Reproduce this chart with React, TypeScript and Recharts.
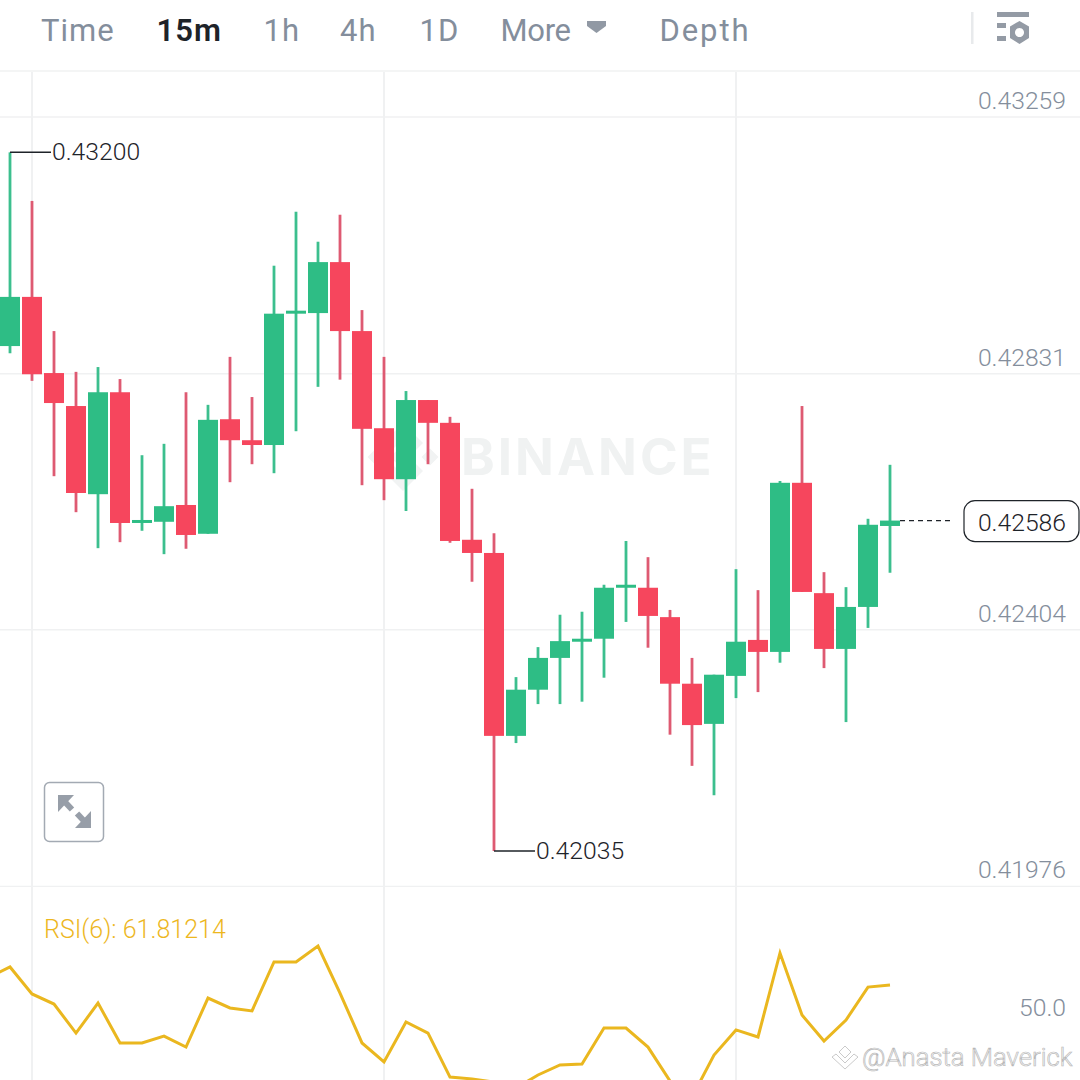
import { Bar, CartesianGrid, ComposedChart, Line, ReferenceDot, XAxis, YAxis } from 'recharts';

const opens = [0.42877, 0.42959, 0.42832, 0.42777, 0.4263, 0.428, 0.42582, 0.42584, 0.42612, 0.42564, 0.42755, 0.4272, 0.42712, 0.42931, 0.42932, 0.43017, 0.42902, 0.4274, 0.42655, 0.42787, 0.42749, 0.42554, 0.42532, 0.42227, 0.42304, 0.42357, 0.42384, 0.42389, 0.42475, 0.42474, 0.42425, 0.42314, 0.42247, 0.42327, 0.42387, 0.42367, 0.42649, 0.42465, 0.42372, 0.42442, 0.42577];
const closes = [0.42959, 0.4283, 0.42782, 0.42632, 0.428, 0.42582, 0.42587, 0.4261, 0.42562, 0.42754, 0.4272, 0.42712, 0.42931, 0.42936, 0.43017, 0.42902, 0.42739, 0.42655, 0.42787, 0.42749, 0.42552, 0.42532, 0.42227, 0.42304, 0.42357, 0.42385, 0.42389, 0.42474, 0.42479, 0.42427, 0.42314, 0.42245, 0.42329, 0.42384, 0.42367, 0.42649, 0.42467, 0.42372, 0.42442, 0.42579, 0.42586];
const highs = [0.432, 0.43119, 0.42902, 0.42834, 0.42842, 0.42822, 0.42695, 0.42714, 0.428, 0.42779, 0.42859, 0.42792, 0.43011, 0.43101, 0.43051, 0.43096, 0.42937, 0.42859, 0.42802, 0.42787, 0.42759, 0.42639, 0.42565, 0.42325, 0.42375, 0.42429, 0.42434, 0.42479, 0.42552, 0.42525, 0.42437, 0.42357, 0.42329, 0.42505, 0.4247, 0.42652, 0.42777, 0.425, 0.42475, 0.42589, 0.42679];
const lows = [0.42865, 0.42819, 0.4266, 0.426, 0.4254, 0.4255, 0.42569, 0.4253, 0.42539, 0.42564, 0.4265, 0.4268, 0.42665, 0.42735, 0.42809, 0.42821, 0.42645, 0.4262, 0.42602, 0.4268, 0.42549, 0.42484, 0.42035, 0.42215, 0.4228, 0.4228, 0.42284, 0.42324, 0.42417, 0.42374, 0.42229, 0.42177, 0.42128, 0.4229, 0.423, 0.42349, 0.42467, 0.4234, 0.4225, 0.42407, 0.42499];
// first value belongs to the candle just off the left edge
const rsiValues = [65.6, 71.5, 57.0, 51.6, 36.0, 52.1, 30.7, 30.7, 34.4, 28.5, 54.8, 49.5, 47.9, 74.2, 74.2, 82.7, 57.5, 30.7, 20.5, 42.0, 36.0, 12.4, 11.4, 9.7, 6.5, 13.5, 18.9, 19.4, 38.7, 38.7, 28.5, 10.3, 1.7, 24.2, 37.7, 33.9, 79.0, 45.7, 31.75, 43.0, 60.7, 61.81];
const priceTicks = [0.43259, 0.42831, 0.42404, 0.41976];
const rsiTicks = [50];
const timeTicks = [1, 17, 33];

const candles = opens.map((open, i) => ({ i, open, close: closes[i], high: highs[i], low: lows[i] }));
const rsiData = rsiValues.map((rsi, k) => ({ i: k - 1, rsi }));

const UP = '#2EBD85';
const DOWN = '#F6465D';
const UP_WICK = '#3CBF8E';
const DOWN_WICK = '#DE5A72';
const GRID = '#F0F1F2';
const MUTED = '#848E9C';
const DARK = '#1E2329';
const FONT = 'Roboto, sans-serif';
const xDomain: [number, number] = [-10 / 22, 1070 / 22];

const Candle = (props: any) => {
  const { x, y, width, height, payload } = props;
  const { open, close, high, low } = payload;
  const scale = height / (high - low);
  const isUp = close >= open;
  const top = y + (high - Math.max(open, close)) * scale;
  const bodyH = Math.max(Math.abs(open - close) * scale, 3);
  const mid = x + width / 2;
  return (
    <g>
      <line x1={mid} x2={mid} y1={y} y2={y + height} stroke={isUp ? UP_WICK : DOWN_WICK} strokeWidth={2.8} />
      <rect x={x} y={top} width={width} height={bodyH} fill={isUp ? UP : DOWN} />
    </g>
  );
};

const PriceTick = ({ y, payload }: any) => (
  <text x={1066} y={y - 8} textAnchor="end" fontSize={24.7} fontWeight={300} fontFamily={FONT} fill={MUTED}>
    {payload.value.toFixed(5)}
  </text>
);

const RsiTick = ({ y, payload }: any) => (
  <text x={1066} y={y + 9} textAnchor="end" fontSize={24.7} fontWeight={300} fontFamily={FONT} fill={MUTED}>
    {payload.value.toFixed(1)}
  </text>
);

const HighLabel = ({ cx, cy, value }: any) => (
  <g>
    <line x1={cx} x2={cx + 41} y1={cy} y2={cy} stroke={DARK} strokeWidth={1.5} />
    <text x={cx + 42} y={cy + 7.5} fontSize={24.7} fontWeight={300} fontFamily={FONT} fill={DARK}>
      {value}
    </text>
  </g>
);

const LastPrice = ({ cx, cy, value }: any) => (
  <g>
    <line x1={cx + 10} x2={cx + 60} y1={cy} y2={cy} stroke={DARK} strokeWidth={1.2} strokeDasharray="5 4" />
    <rect x={964} y={cy - 20} width={115} height={41} rx={11} fill="#fff" stroke={DARK} strokeWidth={1.2} />
    <text x={1066} y={cy + 10} textAnchor="end" fontSize={24.7} fontWeight={300} fontFamily={FONT} fill={DARK}>
      {value}
    </text>
  </g>
);

const Backdrop = () => (
  <svg width={1080} height={1080} style={{ position: 'absolute', left: 0, top: 0 }}>
    <g transform="translate(403 457)" fill="#F1F3F3">
      <rect x={-9} y={-9} width={18} height={18} transform="rotate(45)" />
      <path d="M0 -34 L20 -14 L12 -6 L0 -18 L-12 -6 L-20 -14 Z" />
      <path d="M0 34 L20 14 L12 6 L0 18 L-12 6 L-20 14 Z" />
      <rect x={-33} y={-6} width={12} height={12} transform="rotate(45 -27 0)" />
      <rect x={21} y={-6} width={12} height={12} transform="rotate(45 27 0)" />
    </g>
    <text x={461} y={475} fontSize={51} fontWeight={700} letterSpacing={3} fontFamily="Inter, sans-serif" fill="#F0F2F2">
      BINANCE
    </text>
  </svg>
);

const Tab = ({ x, label, spacing = 1, active = false }: any) => (
  <text
    x={x}
    y={41}
    fontSize={31}
    letterSpacing={spacing}
    fontWeight={active ? 600 : 400}
    fontFamily={FONT}
    fill={active ? DARK : MUTED}
  >
    {label}
  </text>
);

const Overlay = () => (
  <svg width={1080} height={1080} style={{ position: 'absolute', left: 0, top: 0 }}>
    <rect x={0} y={70} width={1080} height={2} fill="#F4F5F5" />
    <Tab x={41} label="Time" />
    <Tab x={156.5} label="15m" active />
    <Tab x={263.5} label="1h" />
    <Tab x={340} label="4h" />
    <Tab x={419.5} label="1D" />
    <Tab x={500.5} label="More" spacing={-0.3} />
    <Tab x={659.5} label="Depth" spacing={1.9} />
    <path d="M587 21 H606 V26 L596.5 33 L587 26 Z" fill="#9199A4" />
    <rect x={971} y={12} width={2.5} height={32} fill="#E8EAEC" />
    <g fill="#949BA5">
      <rect x={997} y={12} width={32} height={5} />
      <rect x={997} y={23} width={9} height={5} />
      <rect x={997} y={36} width={9} height={5} />
      <path fillRule="evenodd" d="M1019.5 21 L1029 26.5 V38 L1019.5 44 L1010 38 V26.5 Z M1019.5 28 a4.5 4.5 0 1 0 0.01 0 Z" />
    </g>

    <rect x={44.5} y={782.5} width={59} height={59} rx={5} fill="#fff" stroke="#A3AAB3" strokeWidth={1.5} />
    <g fill="#979EA8" stroke="none">
      <path d="M58 795 H74 L58 812 Z" />
      <path d="M91 828 H75 L91 811 Z" />
    </g>
    <g stroke="#979EA8" strokeWidth={6}>
      <line x1={64} y1={801} x2={72} y2={809.5} />
      <line x1={85} y1={822} x2={77} y2={813.5} />
    </g>

    <text x={44} y={938} fontSize={25} fontFamily={FONT} fontWeight={300} fill="#EDB71F">
      RSI(6): 61.81214
    </text>

    <g fill="#fff" stroke="#BDBDBD" strokeWidth={0.8}>
      <path d="M845 1046 L851 1052 L845 1058 L839 1052 Z" />
      <path d="M832 1057 L845 1069 L858 1057 L854 1054 L845 1063 L836 1054 Z" />
    </g>
    <text x={862} y={1066} fontSize={25.7} fontWeight={300} fontFamily={FONT} fill="#fff" stroke="#B8B8B8" strokeWidth={0.7}>
      @Anasta Maverick
    </text>
  </svg>
);

export default function App() {
  return (
    <div style={{ position: 'absolute', left: 0, top: 0, width: 1080, height: 1080, overflow: 'hidden', background: '#fff' }}>
      <Backdrop />
      <div style={{ position: 'absolute', left: 0, top: 72 }}>
        <ComposedChart width={1080} height={815} data={candles} margin={{ top: 0, right: 0, bottom: 0, left: 0 }}>
          <CartesianGrid horizontal={false} syncWithTicks stroke={GRID} strokeWidth={2} />
          <CartesianGrid vertical={false} syncWithTicks stroke={GRID} strokeWidth={1.5} />
          <XAxis dataKey="i" type="number" domain={xDomain} ticks={timeTicks} interval={0} allowDataOverflow hide />
          <YAxis
            orientation="right"
            mirror
            domain={[0.41975, 0.43334]}
            ticks={priceTicks}
            interval={0}
            allowDataOverflow
            axisLine={false}
            tickLine={false}
            tick={PriceTick}
          />
          <Bar dataKey={(d: any) => [d.low, d.high]} barSize={20} shape={Candle} isAnimationActive={false} />
          <ReferenceDot x={0} y={0.432} r={0} shape={(p: any) => <HighLabel {...p} value="0.43200" />} />
          <ReferenceDot x={22} y={0.42035} r={0} shape={(p: any) => <HighLabel {...p} value="0.42035" />} />
          <ReferenceDot x={40} y={0.42586} r={0} shape={(p: any) => <LastPrice {...p} value="0.42586" />} />
        </ComposedChart>
      </div>
      <div style={{ position: 'absolute', left: 0, top: 887 }}>
        <ComposedChart width={1080} height={193} data={rsiData} margin={{ top: 0, right: 0, bottom: 0, left: 0 }}>
          <CartesianGrid horizontal={false} syncWithTicks stroke={GRID} strokeWidth={2} />
          <XAxis dataKey="i" type="number" domain={xDomain} ticks={timeTicks} interval={0} allowDataOverflow hide />
          <YAxis
            orientation="right"
            mirror
            domain={[10.82, 114.41]}
            ticks={rsiTicks}
            interval={0}
            allowDataOverflow
            axisLine={false}
            tickLine={false}
            tick={RsiTick}
          />
          <Line dataKey="rsi" type="linear" stroke="#EAB71F" strokeWidth={3} dot={false} isAnimationActive={false} />
        </ComposedChart>
      </div>
      <Overlay />
    </div>
  );
}
